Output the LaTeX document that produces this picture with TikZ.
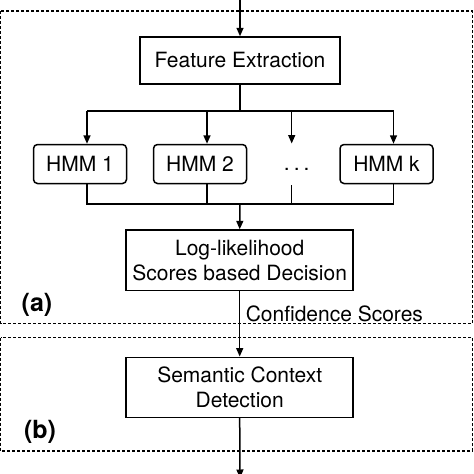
\documentclass[tikz,border=0pt]{standalone}
\usepackage{fontspec}
\setmainfont{TeX Gyre Heros}
\usetikzlibrary{arrows.meta}

\begin{document}
\begin{tikzpicture}[x=1pt, y=-1pt, line width=1.5pt,
  >={Triangle[length=8.5pt,width=7pt]},
  blk/.style={draw, fill=white, inner sep=0pt, align=center},
  hmm/.style={blk, rounded corners=4pt, minimum width=93pt, minimum height=39pt},
  frame/.style={dash pattern=on 3pt off 2pt, line width=1.2pt},
  tag/.style={font=\fontsize{25}{30}\selectfont\bfseries}]

  \fontsize{21}{25}\selectfont

  \newcommand\YBR{111}
  \newcommand\YJN{204}
  \newcommand\DX{7pt}

  \useasboundingbox (0,0) rectangle (474,474);

  % the two dashed parts
  \draw[frame] (0.6,11) rectangle (472.4,323.5);
  \draw[frame] (0.6,337.5) rectangle (472.4,451);

  \node[blk, minimum width=200pt, minimum height=47pt] (fe) at (240,60.5) {Feature Extraction};

  \node[hmm] (h1) at (80,164) {HMM 1};
  \node[hmm] (h2) at (200,164) {HMM 2};
  \node[hmm] (hk) at (386.5,164) {HMM k};
  \node (dots) at (296.7,169) {.\kern4pt.\kern4pt.};

  \node[blk, minimum width=227pt, minimum height=60.5pt] (ll) at (239.7,260.3)
    {Log-likelihood\\Scores based Decision};
  \node[blk, minimum width=227pt, minimum height=60pt] (scd) at (239.7,387.3)
    {Semantic Context\\Detection};

  \node[tag] (la) at (37,305) {(a)};
  \node[tag] (lb) at (40,432) {(b)};
  \node[anchor=base west, inner sep=0pt] (cs) at (245,321) {Confidence Scores};

  \coordinate (in) at (240,0);
  \coordinate (out) at (240,478);
  \coordinate (br) at (240,\YBR);
  \coordinate (jn) at (240,\YJN);
  \coordinate (dtop) at (291.7,143.5);
  \coordinate (dbot) at (291.7,185);

  \draw[->] (in) -- (fe.north);
  \draw (fe.south) -- (br);
  \draw ([xshift=\DX]h1.north |- br) -- ([xshift=\DX]hk.north |- br);
  \draw[->] ([xshift=\DX]h1.north |- br) -- ([xshift=\DX]h1.north);
  \draw[->] ([xshift=\DX]h2.north |- br) -- ([xshift=\DX]h2.north);
  \draw[->] (dtop |- br) -- (dtop);
  \draw[->] ([xshift=\DX]hk.north |- br) -- ([xshift=\DX]hk.north);

  \draw ([xshift=\DX]h1.south) -- ([xshift=\DX]h1.south |- jn)
    -- ([xshift=\DX]hk.south |- jn) -- ([xshift=\DX]hk.south);
  \draw ([xshift=\DX]h2.south) -- ([xshift=\DX]h2.south |- jn);
  \draw (dbot) -- (dbot |- jn);

  \draw[->] (jn) -- (ll.north);
  \draw[->] (ll.south) -- (scd.north);
  \draw[->] (scd.south) -- (out);

\end{tikzpicture}
\end{document}
